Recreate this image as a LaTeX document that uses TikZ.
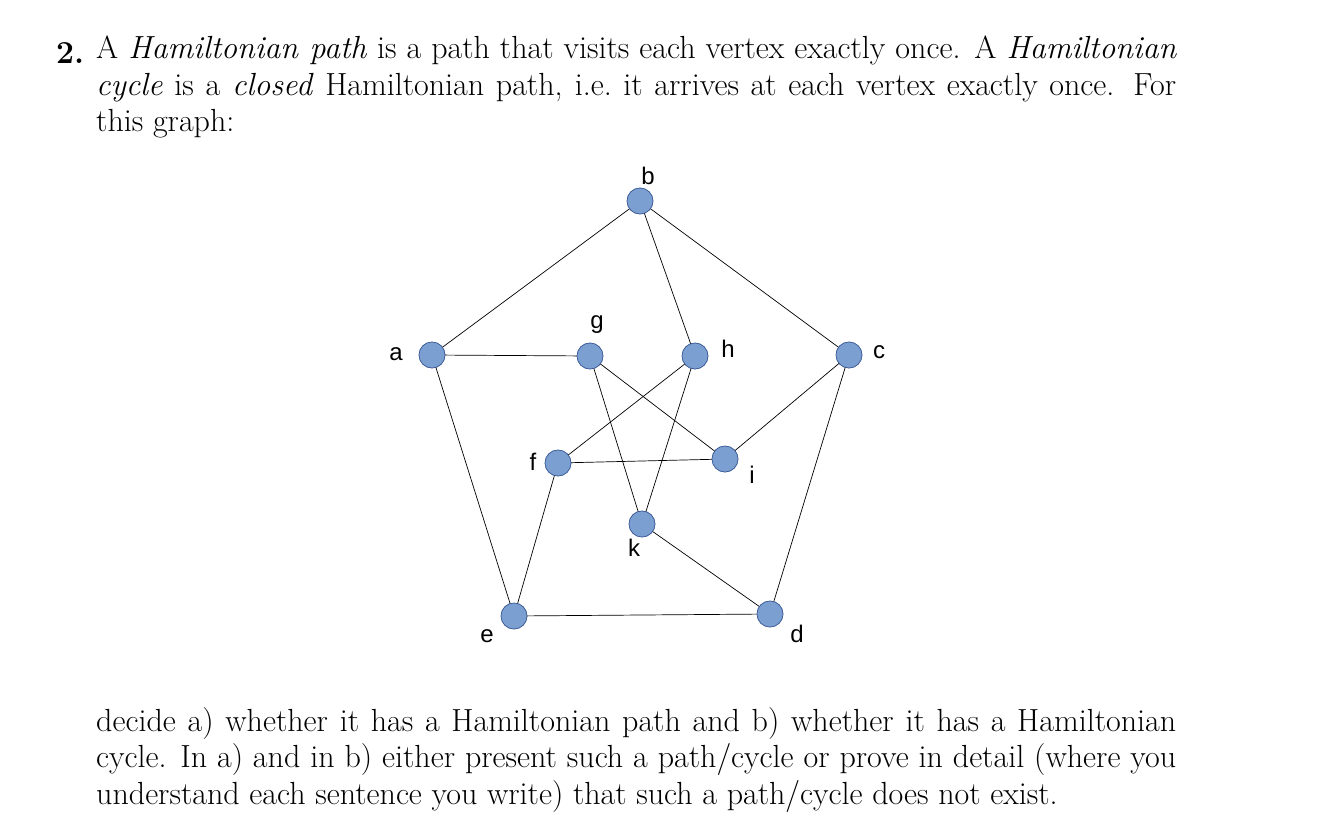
\documentclass[tikz,border=0pt]{standalone}
\usepackage{fontspec}
\newfontfamily\lab{Liberation Sans}
\begin{document}
\begin{tikzpicture}[x=1pt,y=-1pt,
  vtx/.style={circle,fill={rgb,255:red,123;green,159;blue,208},draw={rgb,255:red,60;green,90;blue,150},line width=0.6pt,minimum size=26pt,inner sep=0pt},
  lbl/.style={font=\lab\fontsize{24}{24}\selectfont,inner sep=0pt},
  para/.style={inner sep=0pt,text width=1080pt,align=justify,font=\fontsize{32}{36.5}\selectfont},
  edge/.style={line width=0.7pt}]
\useasboundingbox (0,0) rectangle (1318,822);
\node[anchor=base west,inner sep=0pt,font=\fontsize{32}{36.5}\selectfont\bfseries] (num) at (56,63) {2.};
\node[anchor=north west,para] (t1) at (96,36)
 {A \textit{Hamiltonian path} is a path that visits each vertex exactly once. A \textit{Hamiltonian cycle} is a \textit{closed} Hamiltonian path, i.e.\ it arrives at each vertex exactly once. For this graph:};
\node[anchor=north west,para] (t2) at (96,707)
 {decide a) whether it has a Hamiltonian path and b) whether it has a Hamiltonian cycle. In a) and in b) either present such a path/cycle or prove in detail (where you understand each sentence you write) that such a path/cycle does not exist.};
\node[vtx] (b) at (640,201) {};
\node[vtx] (a) at (432,355) {};
\node[vtx] (g) at (590,356) {};
\node[vtx] (h) at (695,356) {};
\node[vtx] (c) at (849,355) {};
\node[vtx] (f) at (558,463) {};
\node[vtx] (i) at (725,459) {};
\node[vtx] (k) at (642,524) {};
\node[vtx] (e) at (514,616) {};
\node[vtx] (d) at (770,614) {};
\foreach \u/\v in {a/b,b/c,b/h,a/g,a/e,c/i,c/d,e/d,e/f,f/i,f/h,g/i,g/k,h/k,k/d}
  \draw[edge] (\u.center) -- (\v.center);
\foreach \n in {b,a,g,h,c,f,i,k,e,d}
  \node[vtx] at (\n) {};
\node[lbl] (lb) at (648,176) {b};
\node[lbl] (la) at (396,354) {a};
\node[lbl] (lg) at (597,325) {g};
\node[lbl] (lh) at (728,349) {h};
\node[lbl] (lc) at (879,352) {c};
\node[lbl] (lf) at (533,462) {f};
\node[lbl] (li) at (752,475) {i};
\node[lbl] (lk) at (634,548) {k};
\node[lbl] (le) at (487,636) {e};
\node[lbl] (ld) at (797,634) {d};
\end{tikzpicture}
\end{document}
